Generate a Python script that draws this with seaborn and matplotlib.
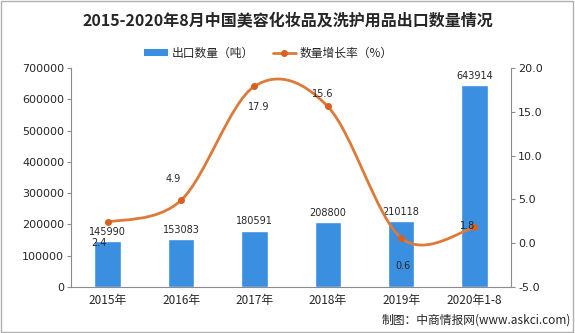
import matplotlib
matplotlib.use('Agg')
import matplotlib.pyplot as plt
from matplotlib.path import Path
from matplotlib.patches import PathPatch, Rectangle
from matplotlib.lines import Line2D
from matplotlib.ticker import FormatStrFormatter
import seaborn as sns
import pandas as pd
import numpy as np

# data
years = ["2015年", "2016年", "2017年", "2018年", "2019年", "2020年1-8"]
export_tons = [145990, 153083, 180591, 208800, 210118, 643914]
growth_pct = [2.4, 4.9, 17.9, 15.6, 0.6, 1.8]

sns.set_style('white')
plt.rcParams['font.family'] = ['DejaVu Sans', 'Noto Sans CJK SC']
cjk = ['Noto Sans CJK SC', 'DejaVu Sans']

bar_color = '#3A8FE0'
line_color = '#DD7A3A'
spine_color = '#8C8C8C'

df = pd.DataFrame({'year': years, 'tons': export_tons})

fig = plt.figure(figsize=(5.75, 3.33), dpi=100)
ax = fig.add_axes([0.1235, 0.138, 0.7655, 0.658])
sns.barplot(data=df, x='year', y='tons', color=bar_color, saturation=1,
            width=0.36, ax=ax, zorder=2)
ax.set_ylim(0, 700000)
ax.set_yticks(np.arange(0, 700001, 100000))
ax.set_xlim(-0.5, len(years) - 0.5)
ax.set_xlabel('')
ax.set_ylabel('')

for i, v in enumerate(export_tons):
    ax.annotate(str(v), (i, v), xytext=(0, 3), textcoords='offset points',
                ha='center', va='bottom', fontsize=7, zorder=5)

# category separator ticks on the bottom axis
ax.set_xticks(np.arange(len(years)))
ax.set_xticklabels(years, fontsize=8.5, family=cjk)
ax.tick_params(axis='x', length=0, pad=5)
ax.set_xticks(np.arange(len(years) + 1) - 0.5, minor=True)
ax.tick_params(axis='x', which='minor', length=4, color=spine_color, direction='out')
ax.tick_params(axis='y', labelsize=8, length=3, color=spine_color, direction='out', pad=2)

for s in ['top', 'right']:
    ax.spines[s].set_visible(False)
for s in ['left', 'bottom']:
    ax.spines[s].set_color(spine_color)
    ax.spines[s].set_linewidth(0.8)

# growth rate on the right axis, smoothed like a spreadsheet line
ax2 = ax.twinx()
ax2.set_ylim(-5, 20)
ax2.set_yticks(np.arange(-5, 20.1, 5))
ax2.yaxis.set_major_formatter(FormatStrFormatter('%.1f'))
ax2.tick_params(axis='y', labelsize=8, length=3, color=spine_color, direction='out', pad=2)
for s in ['top', 'left', 'bottom']:
    ax2.spines[s].set_visible(False)
ax2.spines['right'].set_color(spine_color)
ax2.spines['right'].set_linewidth(0.8)

xs = np.arange(len(growth_pct), dtype=float)
ys = np.array(growth_pct, dtype=float)
verts = [(xs[0], ys[0])]
codes = [Path.MOVETO]
n = len(xs)
for i in range(n - 1):
    p0 = max(i - 1, 0)
    p3 = min(i + 2, n - 1)
    c1 = (xs[i] + (xs[i + 1] - xs[p0]) / 6, ys[i] + (ys[i + 1] - ys[p0]) / 6)
    c2 = (xs[i + 1] - (xs[p3] - xs[i]) / 6, ys[i + 1] - (ys[p3] - ys[i]) / 6)
    verts += [c1, c2, (xs[i + 1], ys[i + 1])]
    codes += [Path.CURVE4] * 3
ax2.add_patch(PathPatch(Path(verts, codes), facecolor='none', edgecolor=line_color,
                        lw=2, zorder=3))
ax2.plot(xs, ys, linestyle='none', marker='o', markersize=4,
         color='#D9601F', zorder=4)

label_offsets = [(-6, -15), (-6, 15), (3, -15), (-4, 9), (1, -20), (-5, 1)]
for i, v in enumerate(growth_pct):
    ax2.annotate(f'{v}', (i, v), xytext=label_offsets[i], textcoords='offset points',
                 ha='center', va='center', fontsize=7, zorder=5)

fig.text(0.5, 0.935, '2015-2020年8月中国美容化妆品及洗护用品出口数量情况',
         ha='center', va='center', fontsize=11.5, fontweight='bold', family=cjk)

handles = [Rectangle((0, 0), 1, 1, facecolor=bar_color, edgecolor='none'),
           Line2D([0], [0], color=line_color, lw=2, marker='o', markersize=4,
                  markerfacecolor='#D9601F', markeredgecolor='#D9601F')]
fig.legend(handles, ['出口数量（吨）', '数量增长率（%）'], loc='center',
           bbox_to_anchor=(0.467, 0.84), ncol=2, frameon=False,
           prop={'family': cjk, 'size': 8.5}, handlelength=2.0, handleheight=0.6,
           columnspacing=1.6, handletextpad=0.3)

fig.text(0.993, 0.04, '制图：中商情报网(www.askci.com)', ha='right', va='center',
         fontsize=8.5, family=cjk)

fig.add_artist(Rectangle((0.002, 0.003), 0.995, 0.994, transform=fig.transFigure,
                         fill=False, edgecolor='#B0B0B0', lw=1))

fig.savefig('out.png', dpi=100)
